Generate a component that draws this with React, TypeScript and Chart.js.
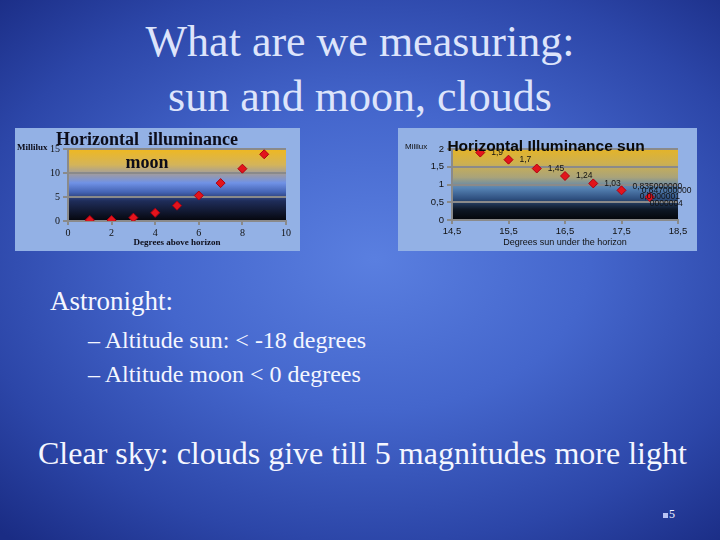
import React, { useEffect, useRef } from "react";
import { Chart, registerables } from "chart.js";
Chart.register(...registerables);

// ---- Moon chart data ----
const moonDegrees = [1, 2, 3, 4, 5, 6, 7, 8, 9];
const moonMillilux = [0.2, 0.2, 0.7, 1.7, 3.2, 5.3, 7.9, 10.9, 13.9];
const moonYTicks = [0, 5, 10, 15];
const moonXTicks = [0, 2, 4, 6, 8, 10];

// ---- Sun chart data ----
const sunDegrees = [15, 15.5, 16, 16.5, 17, 17.5, 18];
const sunMillilux = [1.9, 1.7, 1.45, 1.24, 1.03, 0.835, 0.647];
const sunLabels: string[][] = [
  ["1,9"],
  ["1,7"],
  ["1,45"],
  ["1,24"],
  ["1,03"],
  ["0,835000000"],
  ["0,647000000", "0,0000001", "0000004"],
];
const sunYTickValues = [0, 0.5, 1, 1.5, 2];
const sunYTickLabels = ["0", "0,5", "1", "1,5", "2"];
const sunXTickValues = [14.5, 15.5, 16.5, 17.5, 18.5];
const sunXTickLabels = ["14,5", "15,5", "16,5", "17,5", "18,5"];

const PANEL = "#93b1e5";
const GRID = "#8a8a8a";

function bgPlugin(stops: [number, string][]) {
  return {
    id: "bg",
    beforeDraw(chart: any) {
      const { ctx, chartArea: a, width, height } = chart;
      ctx.save();
      ctx.fillStyle = PANEL;
      ctx.fillRect(0, 0, width, height);
      const g = ctx.createLinearGradient(0, a.top, 0, a.bottom);
      stops.forEach(([o, c]) => g.addColorStop(o, c));
      ctx.fillStyle = g;
      ctx.fillRect(a.left, a.top, a.right - a.left, a.bottom - a.top);
      ctx.restore();
    },
  };
}

function MoonChart() {
  const ref = useRef<HTMLCanvasElement>(null);
  useEffect(() => {
    const overlay = {
      id: "overlay",
      afterDraw(chart: any) {
        const { ctx, chartArea: a } = chart;
        ctx.save();
        ctx.fillStyle = "#0d0d1a";
        ctx.textAlign = "center";
        ctx.textBaseline = "middle";
        ctx.font = "bold 18px 'Liberation Serif'";
        ctx.fillText("Horizontal  illuminance", 132, 12);
        ctx.fillText("moon", 132, 35);
        ctx.font = "bold 9px 'Liberation Serif'";
        ctx.textAlign = "left";
        ctx.fillText("Millilux", 2, 20);
        ctx.textAlign = "center";
        ctx.fillText("Degrees above horizon", (a.left + a.right) / 2, 115);
        ctx.restore();
      },
    };
    const chart = new Chart(ref.current!, {
      type: "scatter",
      data: {
        datasets: [
          {
            data: moonDegrees.map((x, i) => ({ x, y: moonMillilux[i] })),
            pointStyle: "rectRot",
            pointRadius: 4.5,
            backgroundColor: "#e3141c",
            borderColor: "#b00010",
            borderWidth: 1,
          },
        ],
      },
      options: {
        animation: false,
        responsive: false,
        events: [],
        layout: { padding: { top: 21, right: 14, left: 0, bottom: 0 } },
        plugins: { legend: { display: false }, tooltip: { enabled: false }, title: { display: false } },
        scales: {
          x: {
            type: "linear",
            min: 0,
            max: 10,
            afterFit: (s: any) => { s.height = 30; },
            afterBuildTicks: (s: any) => { s.ticks = moonXTicks.map((v) => ({ value: v })); },
            ticks: { color: "#111", font: { family: "'Liberation Serif'", size: 10 }, padding: 2, maxRotation: 0 },
            grid: { drawOnChartArea: false, drawTicks: true, tickLength: 4, color: GRID, lineWidth: 2 },
            border: { color: GRID, width: 2 },
          },
          y: {
            type: "linear",
            min: 0,
            max: 15,
            afterFit: (s: any) => { s.width = 53; },
            afterBuildTicks: (s: any) => { s.ticks = moonYTicks.map((v) => ({ value: v })); },
            ticks: { color: "#111", font: { family: "'Liberation Serif'", size: 10 }, padding: 3 },
            grid: { color: GRID, lineWidth: 2, tickLength: 5, tickColor: GRID },
            border: { color: GRID, width: 2 },
          },
        },
      },
      plugins: [
        bgPlugin([
          [0, "#efb820"],
          [0.22, "#d4b45a"],
          [0.36, "#9a9aa8"],
          [0.47, "#7092e6"],
          [0.6, "#4463b4"],
          [0.72, "#1f2d5a"],
          [1, "#05060c"],
        ]),
        overlay,
      ],
    } as any);
    return () => chart.destroy();
  }, []);
  return (
    <canvas
      ref={ref}
      width={285}
      height={123}
      style={{ position: "absolute", left: 15, top: 128, width: 285, height: 123 }}
    />
  );
}

function SunChart() {
  const ref = useRef<HTMLCanvasElement>(null);
  useEffect(() => {
    const labelOffsets: Record<string, [number, number][]> = {
      "5": [[11, -4]],
      "6": [[-8, -6], [-10, 0], [0, 7]],
    };
    const overlay = {
      id: "overlay",
      afterDraw(chart: any) {
        const { ctx, chartArea: a } = chart;
        const meta = chart.getDatasetMeta(0);
        ctx.save();
        ctx.fillStyle = "#111";
        ctx.textBaseline = "middle";
        ctx.textAlign = "left";
        ctx.font = "8.5px 'Liberation Sans'";
        meta.data.forEach((pt: any, i: number) => {
          const offs = labelOffsets[String(i)] || [[11, 0]];
          sunLabels[i].forEach((line, j) => {
            const o = offs[j] || offs[0];
            ctx.fillText(line, pt.x + o[0], pt.y + o[1]);
          });
        });
        ctx.fillStyle = "#0a0a0a";
        ctx.textAlign = "center";
        ctx.font = "bold 15.5px 'Liberation Sans'";
        ctx.fillText("Horizontal Illuminance sun", 148, 19);
        ctx.fillStyle = "#111";
        ctx.font = "8px 'Liberation Sans'";
        ctx.textAlign = "left";
        ctx.fillText("Mililux", 7, 19);
        ctx.textAlign = "center";
        ctx.font = "9px 'Liberation Sans'";
        ctx.fillText("Degrees sun under the horizon", (a.left + a.right) / 2, 115);
        ctx.restore();
      },
    };
    const chart = new Chart(ref.current!, {
      type: "scatter",
      data: {
        datasets: [
          {
            data: sunDegrees.map((x, i) => ({ x, y: sunMillilux[i] })),
            pointStyle: "rectRot",
            pointRadius: 4.5,
            backgroundColor: "#e3141c",
            borderColor: "#b00010",
            borderWidth: 1,
          },
        ],
      },
      options: {
        animation: false,
        responsive: false,
        events: [],
        layout: { padding: { top: 21, right: 19, left: 0, bottom: 0 } },
        plugins: { legend: { display: false }, tooltip: { enabled: false }, title: { display: false } },
        scales: {
          x: {
            type: "linear",
            min: 14.5,
            max: 18.5,
            afterFit: (s: any) => { s.height = 31; },
            afterBuildTicks: (s: any) => { s.ticks = sunXTickValues.map((v) => ({ value: v })); },
            ticks: {
              color: "#111",
              font: { family: "'Liberation Sans'", size: 9.5 },
              padding: 2,
              maxRotation: 0,
              autoSkip: false,
              callback: (_v: any, i: number) => sunXTickLabels[i],
            },
            grid: { drawOnChartArea: false, drawTicks: true, tickLength: 4, color: GRID, lineWidth: 2 },
            border: { color: GRID, width: 2 },
          },
          y: {
            type: "linear",
            min: 0,
            max: 2,
            afterFit: (s: any) => { s.width = 54; },
            afterBuildTicks: (s: any) => { s.ticks = sunYTickValues.map((v) => ({ value: v })); },
            ticks: {
              color: "#111",
              font: { family: "'Liberation Sans'", size: 9.5 },
              padding: 3,
              callback: (_v: any, i: number) => sunYTickLabels[i],
            },
            grid: { color: GRID, lineWidth: 2, tickLength: 5, tickColor: GRID },
            border: { color: GRID, width: 2 },
          },
        },
      },
      plugins: [
        bgPlugin([
          [0, "#e4b428"],
          [0.2, "#cdb050"],
          [0.4, "#a9a37a"],
          [0.55, "#5683b4"],
          [0.7, "#2f5080"],
          [0.85, "#0e1826"],
          [1, "#04060a"],
        ]),
        overlay,
      ],
    } as any);
    return () => chart.destroy();
  }, []);
  return (
    <canvas
      ref={ref}
      width={299}
      height={123}
      style={{ position: "absolute", left: 398, top: 128, width: 299, height: 123 }}
    />
  );
}

const serif = "'Liberation Serif', 'Times New Roman', serif";

export default function App() {
  const textBase: React.CSSProperties = {
    position: "absolute",
    whiteSpace: "nowrap",
    fontFamily: serif,
    color: "#f4f6ff",
    margin: 0,
  };
  return (
    <div
      style={{
        position: "absolute",
        left: 0,
        top: 0,
        width: 720,
        height: 540,
        overflow: "hidden",
        background:
          "radial-gradient(ellipse 75% 70% at 52% 48%, #5a7fe0 0%, #4466cc 40%, #2c46a8 75%, #1a2c84 100%)",
      }}
    >
      <div
        style={{
          ...textBase,
          left: 0,
          width: 720,
          top: 14,
          textAlign: "center",
          fontSize: 44,
          lineHeight: "55px",
          color: "#dde4fb",
        }}
      >
        <div>What are we measuring:</div>
        <div>sun and moon, clouds</div>
      </div>

      <MoonChart />
      <SunChart />

      <div style={{ ...textBase, left: 50, top: 286, fontSize: 27, lineHeight: "30px" }}>Astronight:</div>
      <div style={{ ...textBase, left: 88, top: 323, fontSize: 24, lineHeight: "34px" }}>
        <div>– Altitude sun: &lt; -18 degrees</div>
        <div>– Altitude moon &lt; 0 degrees</div>
      </div>
      <div style={{ ...textBase, left: 38, top: 434, fontSize: 32, lineHeight: "38px" }}>
        Clear sky: clouds give till 5 magnitudes more light
      </div>
      <div style={{ ...textBase, left: 663, top: 507, fontSize: 12, lineHeight: "14px" }}>
        <span style={{ display: "inline-block", width: 5, height: 5, background: "#b8c4f4", marginRight: 1, verticalAlign: "middle" }} />
        5
      </div>
    </div>
  );
}
